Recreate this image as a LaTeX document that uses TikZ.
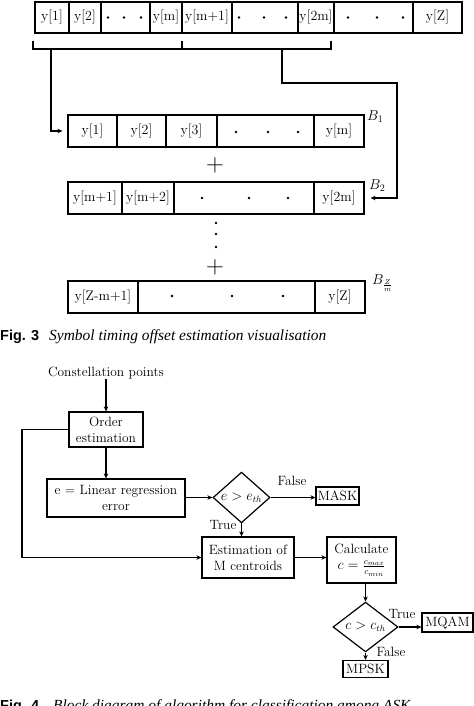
\documentclass[tikz,border=0pt]{standalone}
\usepackage{fontspec}
\newfontfamily\capsans{Liberation Sans}
\newfontfamily\capserif{Liberation Serif}
\usetikzlibrary{shapes.geometric,arrows.meta}
\begin{document}
\begin{tikzpicture}[x=1bp,y=-1bp,
  cell/.style={draw, line width=1.2bp, inner sep=0pt, minimum height=31bp, font=\fontsize{14}{16}\selectfont},
  box/.style={draw, line width=1.2bp, inner sep=1pt, align=center, font=\fontsize{13.5}{16}\selectfont},
  dia/.style={draw, diamond, line width=1.2bp, inner sep=0pt, font=\fontsize{13.5}{15}\selectfont},
  lbl/.style={inner sep=0pt, font=\fontsize{13.5}{16}\selectfont},
  blbl/.style={inner sep=0pt, anchor=west, font=\fontsize{14}{16}\selectfont},
  ln/.style={line width=1.2bp},
  arr/.style={line width=1.2bp, -{Stealth[length=5bp,width=4.5bp]}},
  dot/.style={fill=black},
  capA/.style={inner sep=0pt, anchor=base west, font=\capsans\bfseries\fontsize{14.5}{16}\selectfont},
  capB/.style={inner sep=0pt, anchor=base west, font=\capserif\itshape\fontsize{15.5}{17}\selectfont}]
\useasboundingbox[fill=white] (0,0) rectangle (474,706);

% ---- top row ----
\node[cell, minimum width=34bp] (t1) at (52,17.5) {y[1]};
\node[cell, minimum width=32bp] (t2) at (85,17.5) {y[2]};
\node[cell, minimum width=49bp] (t3) at (125.5,17.5) {};
\node[cell, minimum width=32bp] (t4) at (166,17.5) {y[m]};
\node[cell, minimum width=50bp] (t5) at (207,17.5) {y[m+1]};
\node[cell, minimum width=66bp] (t6) at (265,17.5) {};
\node[cell, minimum width=36bp] (t7) at (316,17.5) {y[2m]};
\node[cell, minimum width=79bp] (t8) at (373.5,17.5) {};
\node[cell, minimum width=49bp] (t9) at (437.5,17.5) {y[Z]};
\foreach \x in {108,124,141,239,264,286,348,377,403} \fill[dot] (\x,17.5) circle (1.4bp);

% ---- bracket ----
\draw[ln] (33,41) -- (33,49) -- (331,49) -- (331,41);
\draw[ln] (182,41) -- (182,49);
\coordinate (br1) at (51,49);
\coordinate (br2) at (282,49);
\coordinate (turn) at (397,83);

% ---- B1 ----
\node[cell, minimum width=49bp, minimum height=32bp] (b11) at (92.5,131) {y[1]};
\node[cell, minimum width=49bp, minimum height=32bp] (b12) at (141.5,131) {y[2]};
\node[cell, minimum width=51bp, minimum height=32bp] (b13) at (191.5,131) {y[3]};
\node[cell, minimum width=97bp, minimum height=32bp] (b14) at (265.5,131) {};
\node[cell, minimum width=50bp, minimum height=32bp] (b15) at (339,131) {y[m]};
\foreach \x in {236,268,298} \fill[dot] (\x,132) circle (1.4bp);
\node[blbl] (lb1) at (367,117) {$B_1$};

\node[inner sep=0pt, font=\fontsize{26}{28}\selectfont] (p1) at (215,165) {$+$};

% ---- B2 ----
\node[cell, minimum width=54bp, minimum height=32bp] (b21) at (95,198) {y[m+1]};
\node[cell, minimum width=52bp, minimum height=32bp] (b22) at (148,198) {y[m+2]};
\node[cell, minimum width=140bp, minimum height=32bp] (b23) at (244,198) {};
\node[cell, minimum width=50bp, minimum height=32bp] (b24) at (339,198) {y[2m]};
\foreach \x in {202,249,288} \fill[dot] (\x,198) circle (1.4bp);
\node[blbl] (lb2) at (369,186) {$B_2$};

\foreach \y in {223,234,247} \fill[dot] (216,\y) circle (1.4bp);
\node[inner sep=0pt, font=\fontsize{26}{28}\selectfont] (p2) at (215,267) {$+$};

% ---- B Z/m ----
\node[cell, minimum width=70bp, minimum height=32bp] (b31) at (103,297) {y[Z-m+1]};
\node[cell, minimum width=177bp, minimum height=32bp] (b32) at (226.5,297) {};
\node[cell, minimum width=50bp, minimum height=32bp] (b33) at (340,297) {y[Z]};
\foreach \x in {172,232,283} \fill[dot] (\x,296) circle (1.4bp);
\node[blbl] (lb3) at (372,283) {$B_{\frac{Z}{m}}$};

% ---- connectors fig 3 ----
\draw[arr, shorten >=5bp] (br1) |- (b11.west);
\draw[arr, shorten >=6bp] (br2) |- (turn) |- (b24.east);

% ---- caption fig 3 ----
\node[capA] (c3a) at (0,340) {Fig. 3};
\node[capB] (c3b) at (49,340) {Symbol timing offset estimation visualisation};

% ---- flowchart ----
\node[lbl] (cons) at (106,373) {Constellation points};
\node[box, minimum width=74bp, minimum height=35bp] (order) at (106,429.5) {Order\\estimation};
\node[box, minimum width=138bp, minimum height=38bp] (ebox) at (116,498) {e = Linear regression\\error};
\node[dia, minimum width=57bp, minimum height=41bp] (d1) at (241.5,497.5) {$e>e_{th}$};
\node[box, minimum width=43bp, minimum height=18bp, inner sep=0pt] (mask) at (337.5,496) {MASK};
\node[box, minimum width=92bp, minimum height=41bp] (estim) at (248,557.5) {Estimation of\\M centroids};
\node[box, minimum width=69bp, minimum height=46bp] (calc) at (361.5,560) {Calculate\\[1bp]$c=\frac{c_{max}}{c_{min}}$};
\node[dia, minimum width=65bp, minimum height=34bp] (d2) at (365.5,627) {$c>c_{th}$};
\node[box, minimum width=51bp, minimum height=19bp, inner sep=0pt] (mqam) at (447.5,622.5) {MQAM};
\node[box, minimum width=45bp, minimum height=17bp, inner sep=0pt] (mpsk) at (365.5,669) {MPSK};

\node[lbl] (f1) at (292,481) {False};
\node[lbl] (tr1) at (223,525) {True};
\node[lbl] (tr2) at (402,614) {True};
\node[lbl] (f2) at (391,652) {False};

\coordinate (lp) at (22,500);
\draw[arr] (cons) -- (order.north);
\draw[arr] (order.south) -- (order.south |- ebox.north);
\draw[arr] (order.west) -| (lp) |- (estim.west);
\draw[arr] (ebox.east |- d1.west) -- (d1.west);
\draw[arr] (d1.east) -- (d1.east -| mask.west);
\draw[arr] (d1.south) -- (d1.south |- estim.north);
\draw[arr] (estim.east) -- (estim.east -| calc.west);
\draw[arr] (d2.north |- calc.south) -- (d2.north);
\draw[arr] (d2.east) -- (d2.east -| mqam.west);
\draw[arr] (d2.south) -- (mpsk.north);

% ---- caption fig 4 (cut off by the page edge) ----
\node[capA] (c4a) at (0,710) {Fig. 4};
\node[capB] (c4b) at (53,710) {Block diagram of algorithm for classification among ASK};
\end{tikzpicture}
\end{document}
